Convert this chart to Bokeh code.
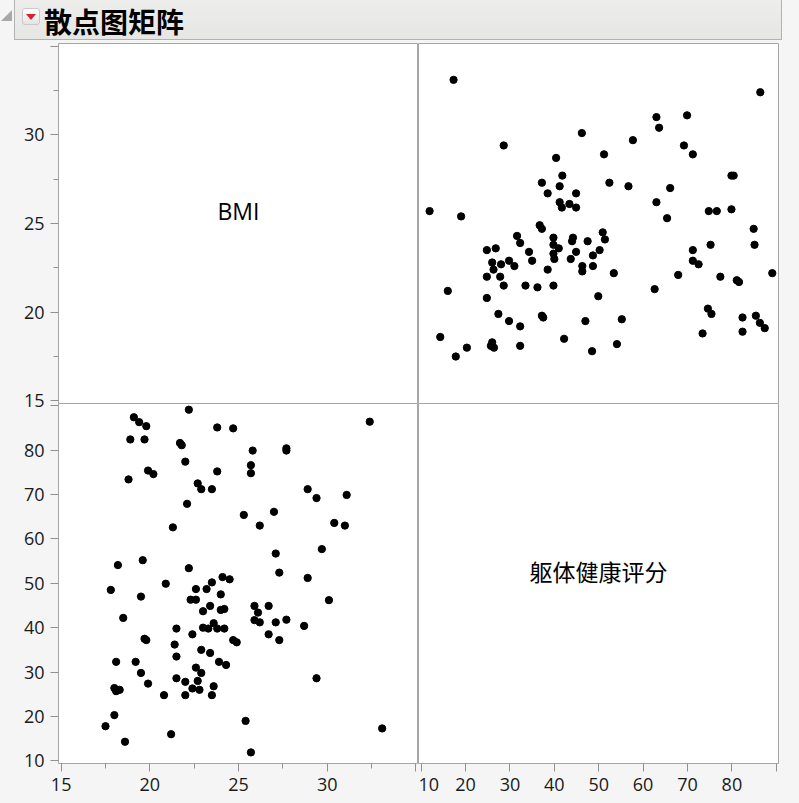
from bokeh.plotting import figure
from bokeh.layouts import gridplot, column
from bokeh.models import Div, Range1d, FixedTicker, ColumnDataSource
from bokeh.embed import file_html
from bokeh.resources import INLINE
from bokeh.core.properties import value

# ---------------- data ----------------
title_text = "散点图矩阵"
var_names = ["BMI", "躯体健康评分"]

bmi = [19.1, 19.4, 19.8, 22.2, 23.8, 24.7, 32.4, 18.9, 19.7, 21.7,
       21.8, 25.8, 27.7, 27.7, 22.0, 25.7, 25.7, 23.8, 19.9, 20.2,
       18.8, 22.7, 22.9, 23.5, 22.1, 28.9, 29.4, 31.1, 27.0, 25.3,
       26.2, 30.4, 31.0, 21.3, 29.7, 27.1, 27.3, 28.9, 19.6, 18.2,
       22.2, 17.8, 20.9, 24.1, 24.5, 23.5, 22.6, 23.2, 24.0, 19.5,
       22.3, 22.6, 30.1, 23.4, 23.0, 24.0, 24.2, 25.9, 26.7, 26.1,
       25.9, 26.2, 27.1, 27.7, 18.5, 23.6, 23.0, 23.3, 23.8, 24.2,
       21.5, 28.7, 22.4, 26.7, 19.7, 19.8, 27.3, 24.7, 24.9, 21.4,
       22.9, 23.4, 21.5, 18.1, 19.2, 23.9, 24.3, 22.6, 22.9, 19.5,
       29.4, 21.5, 22.0, 22.7, 19.9, 23.6, 18.0, 18.1, 18.3, 22.4,
       22.8, 20.8, 22.0, 23.5, 18.0, 17.5, 25.4, 21.2, 18.6, 25.7,
       33.1]

score = [87.4, 86.3, 85.4, 89.1, 85.1, 84.9, 86.4, 82.4, 82.4, 81.6,
         81.1, 79.9, 80.4, 79.9, 77.4, 76.6, 74.8, 75.2, 75.4, 74.6,
         73.4, 72.5, 71.2, 71.2, 67.9, 71.2, 69.2, 69.9, 66.1, 65.4,
         63.0, 63.6, 63.0, 62.6, 57.7, 56.7, 52.4, 51.2, 55.2, 54.1,
         53.4, 48.5, 49.9, 51.4, 50.9, 50.2, 48.7, 48.7, 47.5, 47.0,
         46.3, 46.3, 46.2, 44.9, 43.7, 44.0, 44.2, 44.9, 44.9, 43.4,
         41.7, 41.2, 41.2, 41.8, 42.2, 41.0, 40.0, 39.8, 39.8, 39.8,
         39.8, 40.4, 38.5, 38.5, 37.5, 37.2, 37.2, 37.2, 36.7, 36.2,
         35.0, 34.3, 33.5, 32.3, 32.3, 32.3, 31.6, 31.0, 29.8, 29.8,
         28.6, 28.6, 27.8, 28.0, 27.4, 26.8, 26.4, 25.7, 26.0, 26.3,
         26.0, 24.8, 24.8, 24.8, 20.3, 17.8, 19.0, 16.0, 14.3, 11.9,
         17.3]

bmi_ticks = [15, 20, 25, 30, 35]
bmi_minor = [17.5, 22.5, 27.5, 32.5]
score_ticks = [10, 20, 30, 40, 50, 60, 70, 80, 90]
bmi_hidden_labels = {35: ""}
score_hidden_labels = {90: ""}

bmi_lim = (14.85, 35.15)
score_lim = (9.4, 90.5)

# ---------------- style ----------------
FONT = "Open Sans"
CJK = "Noto Sans CJK SC"
BG = "#f5f5f5"
FRAME = "#a6a6a6"
TICK = "#909090"
LABEL = "#1a1a1a"
PANEL = 360
OVER = 10   # top-row canvases reach this far below their frame so edge labels are not clipped

src = ColumnDataSource(dict(bmi=bmi, score=score))


def make_panel(xr, yr, left=None, bottom=None, left_border=0, bottom_border=0,
               right_border=0, styles=None, extra_h=0):
    p = figure(frame_width=PANEL, frame_height=PANEL + extra_h, x_range=xr, y_range=yr,
               output_backend="svg", toolbar_location=None,
               x_axis_location="below" if bottom else None,
               y_axis_location="left" if left else None,
               min_border=0, min_border_left=left_border,
               min_border_bottom=bottom_border, min_border_right=right_border,
               min_border_top=0, background_fill_color="white",
               border_fill_color=None, outline_line_color=FRAME, outline_line_width=1,
               styles=styles or {})
    p.grid.visible = False
    for ax, spec in ((p.xaxis, bottom), (p.yaxis, left)):
        if spec is None:
            continue
        ticks, minor, overrides = spec
        ax.ticker = FixedTicker(ticks=ticks, minor_ticks=minor)
        ax.major_label_overrides = overrides
        ax.axis_line_color = None
        ax.major_tick_line_color = TICK
        ax.minor_tick_line_color = TICK
        ax.major_tick_in = 0
        ax.minor_tick_in = 0
        ax.major_tick_out = 8
        ax.minor_tick_out = 5
        ax.major_label_text_font = FONT
        ax.major_label_text_font_size = "18px"
        ax.major_label_text_color = LABEL
        ax.major_label_standoff = 6
    return p


bmi_x = Range1d(*bmi_lim)
bmi_y = Range1d(*bmi_lim)
sc_x = Range1d(*score_lim)
sc_y = Range1d(*score_lim)

bmi_spec = (bmi_ticks, bmi_minor, bmi_hidden_labels)
sc_spec = (score_ticks, [], score_hidden_labels)

top_style = {"z-index": "2", "position": "relative"}
bot_style = {"margin-top": f"-{OVER}px", "z-index": "1", "position": "relative"}

tl = make_panel(bmi_x, bmi_y, left=bmi_spec, left_border=58, bottom_border=OVER, styles=top_style)
tr = make_panel(sc_x, bmi_y, right_border=13, bottom_border=OVER, styles=top_style)
# the bottom row is pulled up by OVER px; its cell shrinks by the same amount
bl = make_panel(bmi_x, sc_y, left=sc_spec, bottom=bmi_spec, left_border=58, bottom_border=34,
                styles=bot_style, extra_h=OVER)
br = make_panel(sc_x, sc_y, bottom=sc_spec, bottom_border=34, right_border=13,
                styles=bot_style, extra_h=OVER)

# scatter panels
tr.scatter("score", "bmi", source=src, size=7.3, color="black")
bl.scatter("bmi", "score", source=src, size=7.3, color="black")

# diagonal labels
for p, name, lim in ((tl, var_names[0], bmi_lim), (br, var_names[1], score_lim)):
    mid = (lim[0] + lim[1]) / 2
    p.text(x=[mid], y=[mid], text=[name], text_align="center", text_baseline="middle",
           y_offset=-13, text_font=value(CJK if name != "BMI" else FONT),
           text_font_size="23px", text_color="black")

grid = gridplot([[tl, tr], [bl, br]], toolbar_location=None)

title_html = f"""
<div style="position:relative;width:791px;height:33px;">
  <div style="position:absolute;left:-4px;top:5px;width:0;height:0;
              border-left:11px solid transparent;border-bottom:11px solid #a8a8a8;"></div>
  <div style="position:absolute;left:9px;top:-6px;width:768px;height:41px;box-sizing:border-box;
              background:linear-gradient(#ededeb,#e6e7e5);border:1px solid #b2b2b2;"></div>
  <div style="position:absolute;left:17px;top:3px;width:18px;height:17px;box-sizing:border-box;
              border:1px solid #c9c9c9;border-radius:3px;background:linear-gradient(#ffffff,#e4e4e4);">
    <div style="position:absolute;left:3px;top:5px;width:0;height:0;
                border-left:5px solid transparent;border-right:5px solid transparent;
                border-top:6px solid #d3232b;"></div>
  </div>
  <div style="position:absolute;left:39px;top:0px;font-family:'{CJK}';font-weight:bold;
              font-size:28px;line-height:32px;color:#000;white-space:nowrap;">{title_text}</div>
</div>
"""
title = Div(text=title_html, width=791, height=33)

layout = column(title, grid, spacing=0, styles={"background-color": BG})

with open("out.html", "w") as f:
    f.write(file_html(layout, INLINE))
